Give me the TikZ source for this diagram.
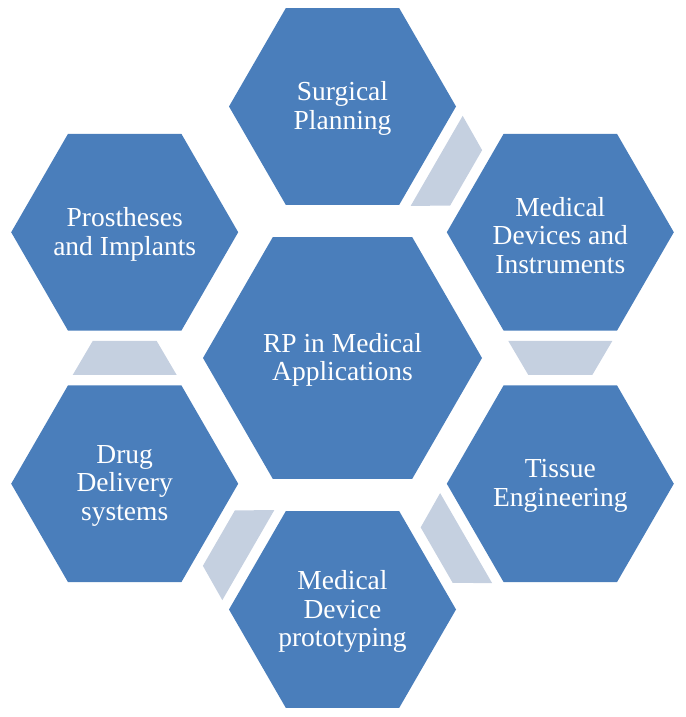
\documentclass[tikz,border=0pt]{standalone}
\usepackage{fontspec}
\setmainfont{Liberation Serif}
\usetikzlibrary{calc}
\definecolor{hexblue}{HTML}{4A7EBB}
\definecolor{linkgray}{HTML}{C5D0E0}
\tikzset{
  hexfill/.style={fill=hexblue},
  linkfill/.style={fill=linkgray},
  hextext/.style={text=white, align=center, inner sep=0pt, yshift=-2pt,
    font=\fontsize{27.5}{28.5}\selectfont}
}
\newcommand{\myhex}[2]{% #1 centre name, #2 radius
  \fill[hexfill] ($(#1)+(0:#2)$) -- ($(#1)+(60:#2)$) -- ($(#1)+(120:#2)$) --
    ($(#1)+(180:#2)$) -- ($(#1)+(240:#2)$) -- ($(#1)+(300:#2)$) -- cycle;}
\newcommand{\mylink}[2]{% #1 mid-angle, #2 direction
  \begin{scope}[shift={($(C)+(#1:217.8)$)}, rotate=#2]
    \fill[linkfill] (-17,-52) -- (-17,52) -- (17,32) -- (17,-32) -- cycle;
  \end{scope}}
\begin{document}
\begin{tikzpicture}[x=1pt,y=1pt]
\useasboundingbox (0,0) rectangle (685,717);
\coordinate (C) at (342.5,359);
\coordinate (SPc) at ($(C)+(90:251.5)$);
\coordinate (MDc) at ($(C)+(30:251.5)$);
\coordinate (TEc) at ($(C)+(-30:251.5)$);
\coordinate (MPc) at ($(C)+(-90:251.5)$);
\coordinate (DDc) at ($(C)+(210:251.5)$);
\coordinate (PIc) at ($(C)+(150:251.5)$);
% connectors
\mylink{60}{-30}
\mylink{0}{-90}
\mylink{-60}{-150}
\mylink{240}{150}
\mylink{180}{90}
% hexagons
\myhex{C}{139.5}
\myhex{SPc}{113.5}
\myhex{MDc}{113.5}
\myhex{TEc}{113.5}
\myhex{MPc}{113.5}
\myhex{DDc}{113.5}
\myhex{PIc}{113.5}
% texts
\node[hextext] (center) at (C) {RP in Medical\\Applications};
\node[hextext] (sp) at (SPc) {Surgical\\Planning};
\node[hextext, yshift=-1pt] (md) at (MDc) {Medical\\Devices and\\Instruments};
\node[hextext] (te) at (TEc) {Tissue\\Engineering};
\node[hextext] (mp) at (MPc) {Medical\\Device\\prototyping};
\node[hextext] (dd) at (DDc) {Drug\\Delivery\\systems};
\node[hextext] (pi) at (PIc) {Prostheses\\and Implants};
\end{tikzpicture}
\end{document}
